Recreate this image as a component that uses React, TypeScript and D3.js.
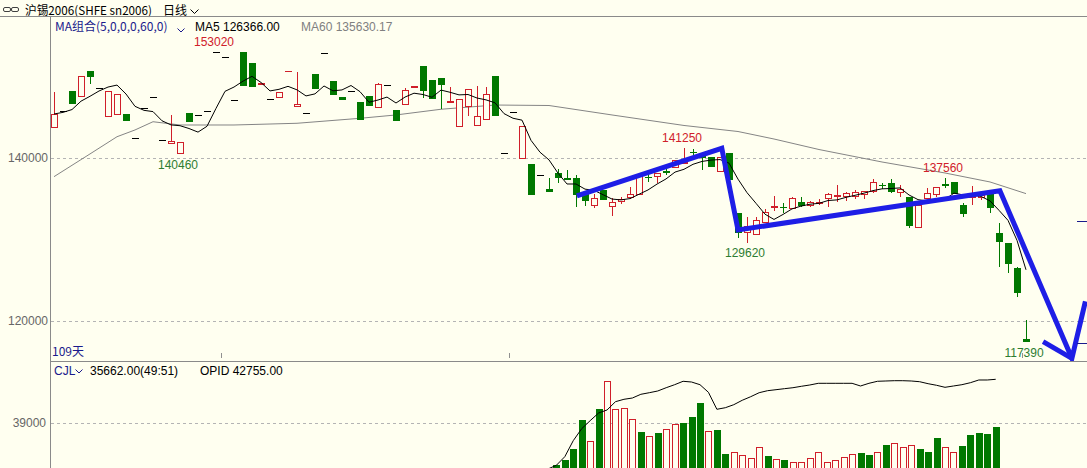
import React from 'react';
import * as d3 from 'd3';

const W = 1087;
const H = 468;

// ---- daily candles (109 days) ----
const opens = [143680,145800,148220,147450,150680,148630,145070,145310,145400,142420,146170,147450,142210,141680,140460,145480,145240,145800,153020,152390,147080,152970,151660,149100,147200,147330,150620,146220,145520,150310,152900,149390,147480,148220,146910,147610,146100,148960,145890,146470,148550,151290,149570,149820,146710,143770,146290,143890,144630,150060,140580,145640,139840,139260,137910,136160,138200,137500,137580,135540,134110,136070,133950,134560,135070,135460,137630,137710,138440,138740,139400,140770,140250,140160,138320,140570,133290,130760,130550,131990,134030,134000,133740,134640,134160,134440,134930,135180,135250,135180,135460,135790,136660,136900,135670,135180,131370,134930,135460,136750,137090,134230,135060,135060,135540,130830,129530,126470,117800];
const highs = [148100,145800,148220,150060,150680,148630,148220,147850,145400,142420,146170,147450,142210,145280,141930,145480,145240,145800,153020,152390,147080,152970,151660,149250,147200,148060,150710,150520,145520,150310,152900,149390,147480,148220,146910,147610,149240,148960,145890,148550,148800,151290,149570,149820,148710,147200,148500,148830,148750,150060,140580,145640,143960,139260,137910,137510,138610,138530,137910,135540,135580,136070,135060,135250,136400,137790,138030,138200,138930,139750,141250,141050,140570,140160,140090,140570,133290,132720,132720,133700,135370,134520,135250,135180,134760,134930,135670,136690,135870,136070,135990,137390,136970,137390,136690,135180,134230,136280,136400,137560,137090,134520,136560,135670,135540,131990,129530,126660,120120];
const lows = [143680,145800,146630,147450,149040,148630,145070,145310,144580,142420,146170,147450,142210,141680,140460,144450,145240,145800,153020,152390,147080,148870,148750,149100,147200,147330,150620,146220,145520,148470,152900,147730,147150,148220,144700,146420,146100,148960,144580,146470,148550,147330,147280,146010,146710,143770,145150,143890,144630,145190,140580,145640,139840,135460,137910,135870,136900,137300,133950,134110,133830,134850,132920,134360,134930,135460,137060,136970,137910,138740,139300,140290,138530,138930,138320,137300,130150,129620,130550,131990,133450,133210,133740,133950,133950,134230,133950,134640,134760,134930,134930,135670,136160,135670,135250,131370,131370,134930,135180,136280,135540,132800,134230,134850,133210,126660,125850,122910,117390];
const closes = [145400,145800,146630,150060,149980,148630,148220,147850,144580,142420,146170,147450,142210,142050,141930,144450,145240,145800,153020,152390,147080,148870,148750,149250,147200,148060,150710,146590,145520,148470,152900,147730,147150,148220,144700,146420,149080,148960,144580,148340,148800,148260,147280,148990,146990,147200,148500,145120,147850,145190,140580,145640,143960,135460,137910,135870,137510,137300,135460,134760,135130,134850,134600,134970,135540,137790,137500,138200,138120,139750,139500,140570,139960,138930,140090,137300,130760,131660,132390,133410,134080,133830,135060,134110,134560,134640,135540,135460,135670,135790,135990,137090,136540,135870,136160,131660,134230,135670,136400,136620,135540,133130,135670,135460,133900,129730,126990,123400,117390];

// MA60 line at these candle indices
const ma60Idx = [0,4,7,9,11,14,20,27,34,38,43,49,55,62,70,76,80,85,92,99,104,108];
const ma60Val = [137710,140500,142610,143440,144450,144050,144050,144260,144870,145280,145980,146500,146440,145280,143990,143250,142330,141040,139510,138160,137060,135630];

// marked extremes
const markIdx = [18,14,70,77,99,108];
const markType = ['high','low','high','low','high','low'];

// hand-drawn blue trend lines (candle index, price)
const trendIdx = [58.1,74.2,76.0,105.1,113.1,114.6];
const trendPrice = [135340,141190,131170,135990,115420,122400];
const arrowIdx = [109.9,113.1];
const arrowPrice = [117460,115420];

const rightMarks = [132300,117300];
const monthTicks = [18.5,50.5,107.5];
const priceTicks = [140000,120000];
const volTicks = [39000];

// ---- volume panel ----
const volValues = [18000,22110,24120,28550,40210,31760,44630,56010,44510,44910,40490,35380,33890,34980,36470,38600,39120,41410,47040,35780,36190,26540,27220,26010,24810,29230,25610,24400,24120,23200,23200,24810,27220,23200,24000,25210,26420,26940,26130,27220,30150,30840,29230,30030,28550,27340,32970,29230,27220,29750,34180,34980,34580,37390];
const volUp = 'gggggrgrrrrgrgrrgggrggrrrrgrgrrrrrrrrggrgrrrgggrrggggg';
const volLine = [20500,22000,25450,31890,36710,39930,43020,44230,47570,48530,49050,50540,51180,51870,53190,54400,55770,55480,54400,51340,44510,45150,46360,48130,49570,51180,51990,52390,52800,53190,53760,54280,54960,54960,54960,54960,54960,53880,54960,55770,55890,56010,56010,55890,55600,54800,54160,53350,53880,54400,55200,56290,56290,56570];

const BG = '#fffff0';
const RED = '#d01f2a';
const GREEN = '#007800';
const FONT = 'Liberation Sans, Arial, sans-serif';
const CJK = 'Noto Sans CJK SC, sans-serif';

export default function App() {
  const x = d3.scaleLinear().domain([0, 108]).range([54, 1026]);
  const y = d3.scaleLinear().domain([120000, 140000]).range([321, 158]);
  const vx = d3.scaleLinear().domain([0, 53]).range([547.9, 995.7]);
  const vy = d3.scaleLinear().domain([0, 39000]).range([520, 423]);

  const ma5 = closes.map((_, i) => {
    const s = closes.slice(Math.max(0, i - 4), i + 1);
    return d3.mean(s) as number;
  });
  const lineP = d3.line<[number, number]>().x(d => d[0]).y(d => d[1]);
  const ma5Path = lineP(ma5.map((v, i) => [x(i), y(v)]));
  const ma60Path = lineP(ma60Idx.map((v, i) => [x(v), y(ma60Val[i])]));
  const trendPath = lineP(trendIdx.map((v, i) => [x(v), y(trendPrice[i])]));
  const arrowPath = lineP(arrowIdx.map((v, i) => [x(v), y(arrowPrice[i])]));
  const volPath = lineP(volLine.map((v, i) => [vx(i), vy(v)]));

  const candles = opens.map((o, i) => {
    const c = closes[i], h = highs[i], l = lows[i];
    const cx = Math.round(x(i));
    if (o === c && h === l && o === h) {
      const yy = Math.round(y(o)) + 0.5;
      return <line key={i} x1={cx - 3} x2={cx + 4} y1={yy} y2={yy} stroke="#000" strokeWidth={1} />;
    }
    const up = c >= o;
    const col = up ? RED : GREEN;
    const yTop = Math.round(y(Math.max(o, c)));
    const yBot = Math.round(y(Math.min(o, c)));
    const yH = Math.round(y(h));
    const yL = Math.round(y(l));
    const els: any[] = [];
    if (yH < yTop) els.push(<line key="h" x1={cx + 0.5} x2={cx + 0.5} y1={yH} y2={yTop} stroke={col} />);
    if (yL > yBot) els.push(<line key="l" x1={cx + 0.5} x2={cx + 0.5} y1={yBot} y2={yL} stroke={col} />);
    if (up) {
      if (yBot - yTop <= 1) {
        els.push(<rect key="b" x={cx - 3} y={yTop} width={7} height={Math.max(1, yBot - yTop + 1)} fill={col} />);
      } else {
        els.push(<rect key="b" x={cx - 2.5} y={yTop + 0.5} width={6} height={yBot - yTop - 1} fill={BG} stroke={col} />);
      }
    } else {
      els.push(<rect key="b" x={cx - 3} y={yTop} width={7} height={Math.max(1, yBot - yTop)} fill={col} />);
    }
    return <g key={i}>{els}</g>;
  });

  const vols = volValues.map((v, i) => {
    const cx = Math.round(vx(i));
    const top = Math.round(vy(v));
    const isUp = volUp[i] === 'r';
    if (isUp) {
      return <rect key={i} x={cx - 2.5} y={top + 0.5} width={6} height={520 - top} fill={BG} stroke={RED} />;
    }
    return <rect key={i} x={cx - 3} y={top} width={7} height={520 - top} fill={GREEN} />;
  });

  const marks = markIdx.map((idx, k) => {
    const isHigh = markType[k] === 'high';
    const val = isHigh ? highs[idx] : lows[idx];
    const yy = isHigh ? y(val) - 10 : y(val) + 10;
    return (
      <text key={k} x={x(idx) - 2} y={yy} dy="0.36em" textAnchor="middle" fontFamily={FONT} fontSize={12}
        fill={isHigh ? '#d0202a' : '#2e7d32'}>{val}</text>
    );
  });

  return (
    <svg width={W} height={H} style={{ position: 'fixed', left: 0, top: 0, background: BG }}>
      <defs>
        <clipPath id="mainClip"><rect x={50} y={17} width={W - 50} height={344} /></clipPath>
        <clipPath id="volClip"><rect x={51} y={362} width={W - 51} height={H - 362} /></clipPath>
      </defs>
      <rect x={0} y={0} width={W} height={H} fill={BG} />

      {/* header */}
      <g stroke="#404040" fill="none" strokeWidth={1}>
        <rect x={3.5} y={7.5} width={7} height={4} rx={1.5} />
        <rect x={11.5} y={7.5} width={7} height={4} rx={1.5} />
      </g>
      <text x={25} y={14.5} fontFamily={CJK} fontSize={12} fill="#000" textLength={127} lengthAdjust="spacingAndGlyphs">沪锡2006(SHFE sn2006)</text>
      <text x={163} y={14.5} fontFamily={CJK} fontSize={12} fill="#000">日线</text>
      <path d="M190.5,9.5 L194.5,13.5 L198.5,9.5" stroke="#000" fill="none" />
      <line x1={0} x2={W} y1={16.5} y2={16.5} stroke="#8a8a8a" />
      <line x1={50.5} x2={50.5} y1={17} y2={H} stroke="#8a8a8a" />
      <line x1={50} x2={W} y1={361.5} y2={361.5} stroke="#8a8a8a" />

      <text x={55} y={31} fontFamily={CJK} fontSize={12} fill="#1a1a8c">MA组合(5,0,0,0,60,0)</text>
      <path d="M177.5,28.5 L181,32 L184.5,28.5" stroke="#1a1a8c" fill="none" />
      <text x={195} y={31} fontFamily={FONT} fontSize={12} fill="#000">MA5 126366.00</text>
      <text x={301} y={31} fontFamily={FONT} fontSize={12} fill="#808080">MA60 135630.17</text>

      {/* grid */}
      {priceTicks.map(p => (
        <g key={p}>
          <line x1={51} x2={W} y1={Math.round(y(p)) + 0.5} y2={Math.round(y(p)) + 0.5} stroke="#b4b4b4" strokeDasharray="3,3" />
          <text x={48} y={y(p)} dy="0.36em" textAnchor="end" fontFamily={FONT} fontSize={12} fill="#666">{p}</text>
        </g>
      ))}
      {volTicks.map(p => (
        <g key={p}>
          <line x1={51} x2={W} y1={Math.round(vy(p)) + 0.5} y2={Math.round(vy(p)) + 0.5} stroke="#b4b4b4" strokeDasharray="3,3" />
          <text x={46} y={vy(p)} dy="0.36em" textAnchor="end" fontFamily={FONT} fontSize={12} fill="#666">{p}</text>
        </g>
      ))}
      {monthTicks.map(t => (
        <line key={t} x1={Math.round(x(t)) + 0.5} x2={Math.round(x(t)) + 0.5} y1={353} y2={358} stroke="#909090" />
      ))}

      <g clipPath="url(#mainClip)">
        <path d={ma60Path || ''} fill="none" stroke="#858585" strokeWidth={1} />
        {candles}
        <path d={ma5Path || ''} fill="none" stroke="#000" strokeWidth={1} />
        {marks}
        <path d={trendPath || ''} fill="none" stroke="#1e1ee6" strokeWidth={5} strokeLinejoin="miter" />
        <path d={arrowPath || ''} fill="none" stroke="#1e1ee6" strokeWidth={5} />
        {rightMarks.map(p => (
          <line key={p} x1={1077} x2={W} y1={Math.round(y(p)) + 0.5} y2={Math.round(y(p)) + 0.5} stroke="#1a1a8c" />
        ))}
      </g>
      <text x={52} y={352} dy="0.36em" fontFamily={CJK} fontSize={12} fill="#1a1a8c">109天</text>

      {/* volume */}
      <text x={54} y={371} dy="0.36em" fontFamily={FONT} fontSize={12} fill="#1a1a8c">CJL</text>
      <path d="M75.5,369.5 L79,373 L82.5,369.5" stroke="#1a1a8c" fill="none" />
      <text x={90} y={371} dy="0.36em" fontFamily={FONT} fontSize={12} fill="#000">35662.00(49:51)</text>
      <text x={200} y={371} dy="0.36em" fontFamily={FONT} fontSize={12} fill="#000">OPID 42755.00</text>
      <g clipPath="url(#volClip)">
        {vols}
        <path d={volPath || ''} fill="none" stroke="#000" strokeWidth={1} />
      </g>
    </svg>
  );
}
